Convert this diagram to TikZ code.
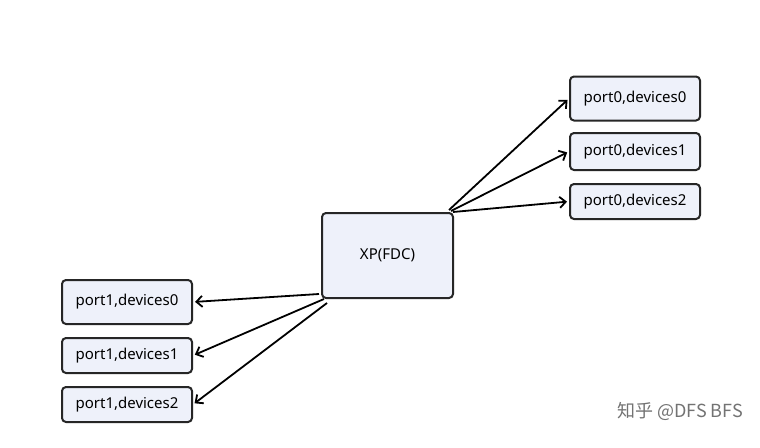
\documentclass[tikz,border=0pt]{standalone}
\usepackage{fontspec}
\setmainfont{Noto Sans}
\newfontfamily\cjk{Noto Sans CJK SC}
\usetikzlibrary{arrows.meta}
\definecolor{boxfill}{HTML}{EEF1FA}
\begin{document}
\begin{tikzpicture}[x=1pt,y=-1pt,
  box/.style={draw=black!85,line width=2pt,fill=boxfill,rounded corners=4pt,font=\fontsize{15}{17}\selectfont},
  conn/.style={-{Straight Barb[length=6pt,width=11pt]},line width=1.8pt,shorten >=2pt}]
\useasboundingbox[fill=white] (0,0) rectangle (760,447);
\node[box,minimum width=131pt,minimum height=85pt] (c) at (387.5,255.5) {XP(FDC)};
\node[box,minimum width=130pt,minimum height=44pt] (r0) at (635,98.5) {port0,devices0};
\node[box,minimum width=130pt,minimum height=37pt] (r1) at (635,151.5) {port0,devices1};
\node[box,minimum width=130pt,minimum height=35pt] (r2) at (635,201.5) {port0,devices2};
\node[box,minimum width=130pt,minimum height=44pt] (l0) at (127,302) {port1,devices0};
\node[box,minimum width=130pt,minimum height=35pt] (l1) at (127,355.5) {port1,devices1};
\node[box,minimum width=130pt,minimum height=35pt] (l2) at (127,404.5) {port1,devices2};
\coordinate (a0) at (449,210);
\coordinate (a1) at (451,211);
\coordinate (a2) at (453,212);
\coordinate (b0) at (319,294);
\coordinate (b1) at (324,299);
\coordinate (b2) at (327,303);
\draw[conn] (a0) -- (r0.west);
\draw[conn] (a1) -- (r1.west);
\draw[conn] (a2) -- (r2.west);
\draw[conn] (b0) -- (l0.east);
\draw[conn] (b1) -- (l1.east);
\draw[conn] (b2) -- (l2.east);
\node[text=black!55,font=\cjk\fontsize{18}{20}\selectfont] (wm) at (680,411) {知乎 @DFS BFS};
\end{tikzpicture}
\end{document}
